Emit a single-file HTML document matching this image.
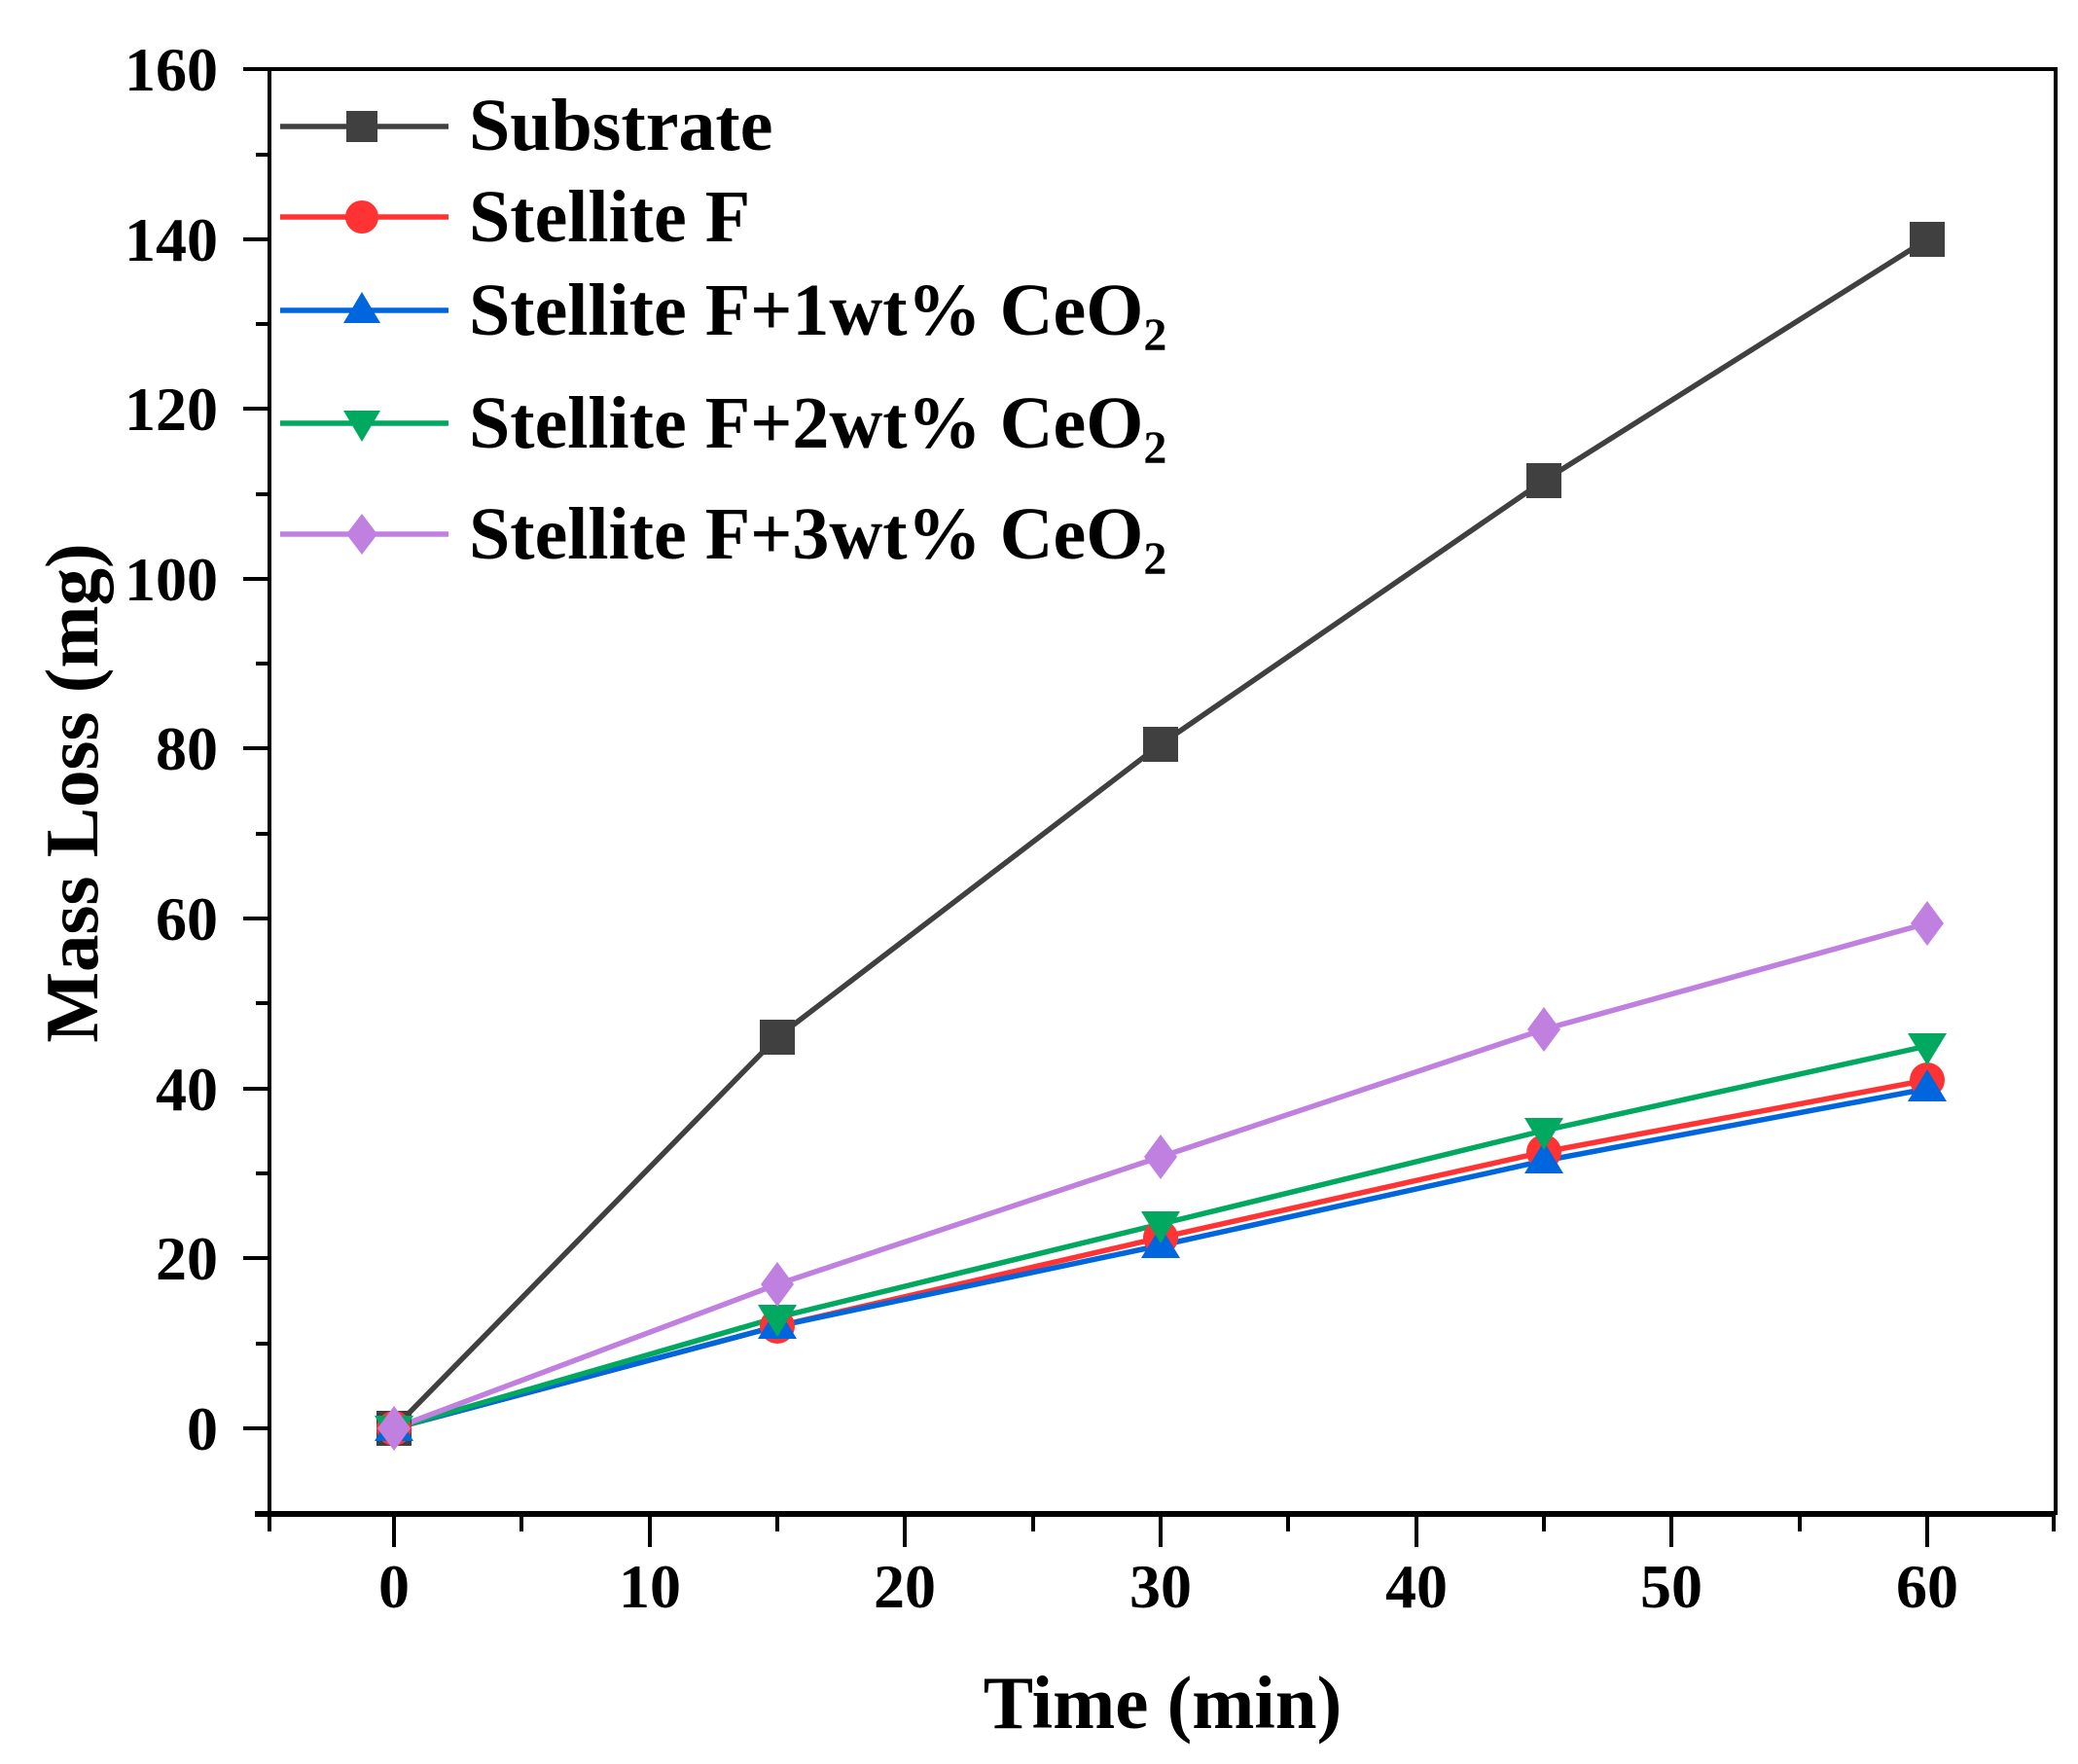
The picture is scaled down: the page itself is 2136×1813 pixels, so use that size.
<!DOCTYPE html>
<html><head><style>body{margin:0;background:#fff}svg{display:block}</style></head><body>
<svg width="2136" height="1813" xmlns="http://www.w3.org/2000/svg" font-family="Liberation Serif, serif" font-weight="bold">
<rect width="2136" height="1813" fill="#fff"/>
<g stroke-width="5.5" fill="none">
<polyline stroke="#404040" points="405,1468 799,1066 1193,765 1587,494 1981,246"/>
<polyline stroke="#ff3333" points="405,1468 799,1363 1193,1272 1587,1184 1981,1110"/>
<polyline stroke="#0066dd" points="405,1468 799,1363 1193,1280 1587,1193 1981,1119"/>
<polyline stroke="#00a860" points="405,1468 799,1354 1193,1258 1587,1162 1981,1075"/>
<polyline stroke="#c080e0" points="405,1468 799,1320 1193,1189 1587,1058 1981,949"/>
</g>
<g fill="#404040"><rect x="387" y="1450" width="36" height="36"/><rect x="781" y="1048" width="36" height="36"/><rect x="1175" y="747" width="36" height="36"/><rect x="1569" y="476" width="36" height="36"/><rect x="1963" y="228" width="36" height="36"/></g>
<g fill="#ff3333"><circle cx="405" cy="1468" r="18"/><circle cx="799" cy="1363" r="18"/><circle cx="1193" cy="1272" r="18"/><circle cx="1587" cy="1184" r="18"/><circle cx="1981" cy="1110" r="18"/></g>
<g fill="#0066dd"><path d="M405,1448 l20,33 h-40z"/><path d="M799,1343 l20,33 h-40z"/><path d="M1193,1260 l20,33 h-40z"/><path d="M1587,1173 l20,33 h-40z"/><path d="M1981,1099 l20,33 h-40z"/></g>
<g fill="#00a860"><path d="M405,1488 l20,-33 h-40z"/><path d="M799,1374 l20,-33 h-40z"/><path d="M1193,1278 l20,-33 h-40z"/><path d="M1587,1182 l20,-33 h-40z"/><path d="M1981,1095 l20,-33 h-40z"/></g>
<g fill="#c080e0"><path d="M405,1445 l17,23 l-17,23 l-17,-23z"/><path d="M799,1297 l17,23 l-17,23 l-17,-23z"/><path d="M1193,1166 l17,23 l-17,23 l-17,-23z"/><path d="M1587,1035 l17,23 l-17,23 l-17,-23z"/><path d="M1981,926 l17,23 l-17,23 l-17,-23z"/></g>
<rect x="277" y="71" width="1836" height="1484" fill="none" stroke="#000" stroke-width="4"/>
<line x1="262" y1="1556" x2="2113" y2="1556" stroke="#000" stroke-width="6"/>
<g stroke="#000" stroke-width="4">
<line x1="250" y1="1468" x2="277" y2="1468"/><line x1="250" y1="1293" x2="277" y2="1293"/><line x1="250" y1="1119" x2="277" y2="1119"/><line x1="250" y1="944" x2="277" y2="944"/><line x1="250" y1="769" x2="277" y2="769"/><line x1="250" y1="595" x2="277" y2="595"/><line x1="250" y1="420" x2="277" y2="420"/><line x1="250" y1="246" x2="277" y2="246"/><line x1="250" y1="71" x2="277" y2="71"/>
<line x1="263" y1="1381" x2="277" y2="1381"/><line x1="263" y1="1206" x2="277" y2="1206"/><line x1="263" y1="1031" x2="277" y2="1031"/><line x1="263" y1="857" x2="277" y2="857"/><line x1="263" y1="682" x2="277" y2="682"/><line x1="263" y1="508" x2="277" y2="508"/><line x1="263" y1="333" x2="277" y2="333"/><line x1="263" y1="159" x2="277" y2="159"/>
<line x1="405" y1="1556" x2="405" y2="1590"/><line x1="668" y1="1556" x2="668" y2="1590"/><line x1="930" y1="1556" x2="930" y2="1590"/><line x1="1193" y1="1556" x2="1193" y2="1590"/><line x1="1456" y1="1556" x2="1456" y2="1590"/><line x1="1718" y1="1556" x2="1718" y2="1590"/><line x1="1981" y1="1556" x2="1981" y2="1590"/>
<line x1="277" y1="1556" x2="277" y2="1574"/><line x1="536" y1="1556" x2="536" y2="1574"/><line x1="799" y1="1556" x2="799" y2="1574"/><line x1="1062" y1="1556" x2="1062" y2="1574"/><line x1="1324" y1="1556" x2="1324" y2="1574"/><line x1="1587" y1="1556" x2="1587" y2="1574"/><line x1="1850" y1="1556" x2="1850" y2="1574"/><line x1="2111" y1="1556" x2="2111" y2="1574"/>
</g>
<g font-size="64" text-anchor="end">
<text x="224" y="1490">0</text><text x="224" y="1315">20</text><text x="224" y="1141">40</text><text x="224" y="966">60</text><text x="224" y="791">80</text><text x="224" y="617">100</text><text x="224" y="442">120</text><text x="224" y="268">140</text><text x="224" y="93">160</text>
</g>
<g font-size="64" text-anchor="middle">
<text x="405" y="1652">0</text><text x="668" y="1652">10</text><text x="930" y="1652">20</text><text x="1193" y="1652">30</text><text x="1456" y="1652">40</text><text x="1718" y="1652">50</text><text x="1981" y="1652">60</text>
</g>
<text x="1195" y="1776" font-size="77" text-anchor="middle">Time (min)</text>
<text transform="translate(100,815) rotate(-90)" font-size="77" text-anchor="middle">Mass Loss (mg)</text>
<g stroke-width="5.5">
<line x1="288" y1="130" x2="461" y2="130" stroke="#404040"/><rect x="356" y="114" width="32" height="32" fill="#404040"/>
<line x1="288" y1="223" x2="461" y2="223" stroke="#ff3333"/><circle cx="372" cy="223" r="17" fill="#ff3333"/>
<line x1="288" y1="319" x2="461" y2="319" stroke="#0066dd"/><path d="M372,300 l19,32 h-38z" fill="#0066dd"/>
<line x1="288" y1="435" x2="461" y2="435" stroke="#00a860"/><path d="M372,454 l19,-32 h-38z" fill="#00a860"/>
<line x1="288" y1="549" x2="461" y2="549" stroke="#c080e0"/><path d="M372,528 l16,21 l-16,21 l-16,-21z" fill="#c080e0"/>
</g>
<g font-size="76">
<text x="482" y="154">Substrate</text>
<text x="482" y="248">Stellite F</text>
<text x="482" y="344">Stellite F+1wt% CeO<tspan font-size="48" dy="16">2</tspan></text>
<text x="482" y="460">Stellite F+2wt% CeO<tspan font-size="48" dy="16">2</tspan></text>
<text x="482" y="574">Stellite F+3wt% CeO<tspan font-size="48" dy="16">2</tspan></text>
</g>
</svg>
</body></html>
